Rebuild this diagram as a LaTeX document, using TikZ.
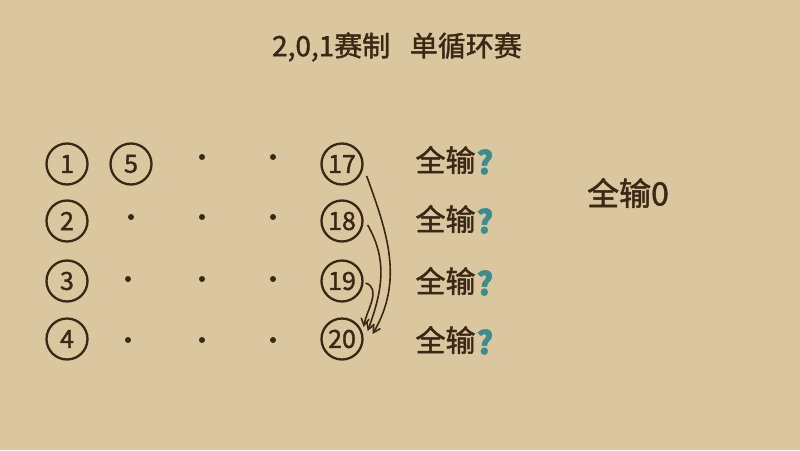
\documentclass[tikz,border=0pt]{standalone}
\usepackage{fontspec}
\setmainfont[FakeBold=1.5]{Noto Sans CJK SC}
\usetikzlibrary{arrows.meta}
\definecolor{paper}{HTML}{DBC79F}
\definecolor{ink}{HTML}{3A2816}
\definecolor{teal}{HTML}{3E8C8E}
\tikzset{
  num/.style={circle,draw=ink,line width=2.3pt,minimum size=41pt,inner sep=0pt,text=ink,font=\fontsize{25}{25}\selectfont},
  pt/.style={circle,fill=ink,minimum size=6pt,inner sep=0pt},
  lose/.style={text=ink,font=\fontsize{30}{30}\selectfont,anchor=west},
  qm/.style={text=teal,font=\bfseries\fontsize{32}{32}\selectfont,anchor=west,inner sep=0pt},
  curv/.style={draw=ink,line width=1.6pt,-{Straight Barb[length=7pt,width=8pt]}}
}
\begin{document}
\begin{tikzpicture}[x=1pt,y=-1pt]
\fill[paper] (0,0) rectangle (800,450);
\useasboundingbox (0,0) rectangle (800,450);
\node[text=ink,font=\fontsize{28}{28}\selectfont] (title) at (397,47) {2,0,1赛制\hspace{0.7em}单循环赛};
\node[num] (n1) at (67,164) {1};
\node[num] (n5) at (131,164) {5};
\node[num] (n2) at (67,221) {2};
\node[num] (n3) at (67,281) {3};
\node[num] (n4) at (67,339) {4};
\node[num] (n17) at (342,164) {17};
\node[num] (n18) at (342,221) {18};
\node[num] (n19) at (342,281) {19};
\node[num] (n20) at (342,339) {20};
\node[pt] (d12) at (202,157) {};
\node[pt] (d13) at (273,157) {};
\node[pt] (d21) at (131,217) {};
\node[pt] (d22) at (202,217) {};
\node[pt] (d23) at (273,217) {};
\node[pt] (d31) at (128,279) {};
\node[pt] (d32) at (202,279) {};
\node[pt] (d33) at (273,279) {};
\node[pt] (d41) at (128,340) {};
\node[pt] (d42) at (202,340) {};
\node[pt] (d43) at (273,340) {};
\foreach \i/\y in {1/160,2/219,3/281,4/340}{
  \node[lose] (l\i) at (412,\y) {全输};
  \node[qm] (q\i) at ([xshift=-3pt,yshift=-2pt]l\i.east) {?};
}
\node[text=ink,font=\fontsize{32}{32}\selectfont] (total) at (628,193) {全输0};
\draw[curv] (n17.east) ++(3,12) coordinate (s17) to[out=-70,in=60] ([shift={(9,-5)}]n20.east);
\draw[curv] (n18.east) ++(4,4) coordinate (s18) to[out=-60,in=70] ([shift={(4,-8)}]n20.east);
\draw[curv] (n19.east) ++(2,2) coordinate (s19) to[out=-20,in=80] ([shift={(0,-12)}]n20.east);
\end{tikzpicture}
\end{document}
